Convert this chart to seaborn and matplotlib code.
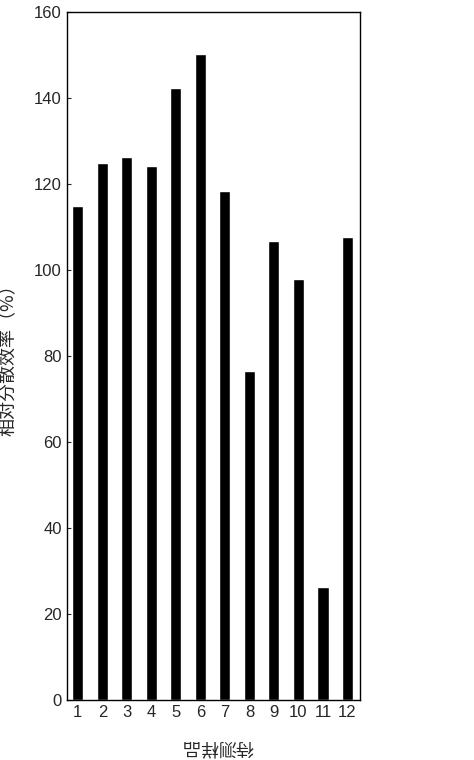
import matplotlib
matplotlib.use("Agg")
import matplotlib.pyplot as plt
import pandas as pd
import seaborn as sns

samples = [str(i) for i in range(1, 13)]
efficiency = [114.8, 124.8, 126.2, 124.2, 142.3, 150.2, 118.4, 76.5, 106.8, 97.9, 26.2, 107.6]

df = pd.DataFrame({"sample": samples, "eff": efficiency})

sns.set_style("white")
plt.rcParams["font.family"] = ["Liberation Sans", "Noto Sans CJK SC", "DejaVu Sans"]

fig = plt.figure(figsize=(4.74, 7.6), dpi=100)
ax = fig.add_axes([0.141, 0.079, 0.618, 0.905])
sns.barplot(data=df, x="sample", y="eff", color="black", width=0.45, ax=ax)

ax.set_xlim(-0.45, 11.5)
ax.set_ylim(0, 160)
ax.set_yticks(range(0, 161, 20))
ax.tick_params(axis="both", labelsize=12, direction="in", length=3, left=True, bottom=False)
for s in ax.spines.values():
    s.set_color("black")
    s.set_linewidth(1.0)
ax.set_xlabel("")
ax.set_ylabel("相对分散效率（%）", fontsize=13, family=["Noto Sans CJK SC", "DejaVu Sans"], labelpad=12)
fig.text(0.458, 0.018, "待测样品", rotation=180, fontsize=13, ha="center", va="center",
         family=["Noto Sans CJK SC", "DejaVu Sans"])

fig.savefig("out.png", dpi=100)
